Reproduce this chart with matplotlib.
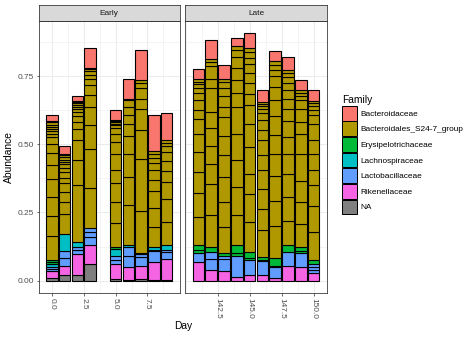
import matplotlib
matplotlib.use("Agg")
import matplotlib.pyplot as plt
from matplotlib.patches import Patch
import numpy as np

plt.rcParams['font.family'] = ['Liberation Sans', 'DejaVu Sans']

early_days = [0, 1, 2, 3, 5, 6, 7, 8, 9]
late_days = [141, 142, 143, 144, 145, 146, 147, 148, 149, 150]
days = early_days + late_days

families = ["NA", "Rikenellaceae", "Lactobacillaceae", "Lachnospiraceae",
            "Erysipelotrichaceae", "Bacteroidales_S24-7_group", "Bacteroidaceae"]
legend_order = ["Bacteroidaceae", "Bacteroidales_S24-7_group", "Erysipelotrichaceae",
                "Lachnospiraceae", "Lactobacillaceae", "Rikenellaceae", "NA"]

# OTU abundances per sample (one inner list per day), bottom OTU first
na_otus = [[0.010], [0.022], [0.022], [0.061], [0.005], [0.004], [0.006], [0.004], [0.004],
           [], [], [], [], [], [], [], [], [], []]
rikenellaceae = [[0.027], [0.033], [0.074], [0.070], [0.056], [0.045], [0.049], [0.063], [0.076],
                 [0.067], [0.039], [0.034], [0.015], [0.022], [0.022], [0.010], [0.055], [0.049], [0.027]]
lactobacillaceae = [[0.006, 0.006], [0.028, 0.025], [0.015, 0.012], [0.029, 0.020, 0.012],
                    [0.016, 0.015], [0.040, 0.036], [0.031, 0.010], [0.040, 0.007], [0.025, 0.008],
                    [0.035], [0.041, 0.024], [0.046, 0.012], [0.077], [0.054], [0.049],
                    [0.039, 0.006], [0.049], [0.053], [0.012, 0.012, 0.010]]
lachnospiraceae = [[0.012], [0.064], [0.020], [], [0.024], [0.007], [0.006], [0.009], [0.018],
                   [], [], [], [], [], [], [], [], [], []]
erysipelotrichaceae = [[0.008, 0.007], [], [], [], [0.009], [], [], [], [],
                       [0.011, 0.019], [0.019], [0.010], [0.008, 0.029], [0.007, 0.021],
                       [0.006, 0.009], [0.028], [0.028], [0.006, 0.015], [0.013]]
s24_7 = [
    [0.088, 0.073, 0.068, 0.066, 0.054, 0.043, 0.032, 0.025, 0.013, 0.010, 0.008, 0.009, 0.007, 0.008, 0.006],
    [0.073, 0.044, 0.035, 0.034, 0.020, 0.019, 0.017, 0.012, 0.010, 0.008, 0.008, 0.007, 0.007],
    [0.206, 0.095, 0.071, 0.040, 0.026, 0.021, 0.016, 0.011, 0.008, 0.008, 0.005, 0.004, 0.005],
    [0.149, 0.142, 0.087, 0.067, 0.044, 0.035, 0.024, 0.015, 0.012, 0.008, 0.006],
    [0.086, 0.077, 0.070, 0.046, 0.060, 0.045, 0.030, 0.019, 0.012, 0.005, 0.005, 0.004, 0.004],
    [0.147, 0.101, 0.086, 0.063, 0.045, 0.034, 0.029, 0.025, 0.005],
    [0.155, 0.189, 0.108, 0.076, 0.037, 0.041, 0.017, 0.010],
    [0.073, 0.072, 0.060, 0.040, 0.039, 0.024, 0.018, 0.014, 0.013],
    [0.085, 0.082, 0.062, 0.042, 0.037, 0.034, 0.022, 0.011, 0.011],
    [0.103, 0.086, 0.077, 0.074, 0.067, 0.052, 0.034, 0.037, 0.027, 0.019, 0.013, 0.008, 0.009],
    [0.118, 0.114, 0.071, 0.068, 0.064, 0.061, 0.086, 0.036, 0.046, 0.014, 0.010],
    [0.094, 0.092, 0.092, 0.080, 0.072, 0.068, 0.037, 0.041, 0.027, 0.022, 0.011],
    [0.110, 0.104, 0.098, 0.098, 0.098, 0.052, 0.046, 0.043, 0.043, 0.025, 0.014],
    [0.110, 0.105, 0.073, 0.098, 0.086, 0.067, 0.040, 0.042, 0.035, 0.033, 0.022, 0.022, 0.017],
    [0.098, 0.079, 0.074, 0.067, 0.058, 0.053, 0.039, 0.034, 0.025, 0.018, 0.009, 0.007, 0.009],
    [0.116, 0.093, 0.092, 0.082, 0.067, 0.070, 0.059, 0.049, 0.040, 0.021, 0.018, 0.015],
    [0.086, 0.088, 0.084, 0.076, 0.061, 0.059, 0.045, 0.034, 0.034, 0.024, 0.022, 0.015, 0.012],
    [0.083, 0.081, 0.078, 0.098, 0.076, 0.043, 0.049, 0.031, 0.016, 0.011, 0.010],
    [0.106, 0.093, 0.076, 0.058, 0.059, 0.051, 0.057, 0.033, 0.018, 0.015, 0.010, 0.008],
]
bacteroidaceae = [[0.022], [0.027], [0.017], [0.073], [0.039], [0.072], [0.111], [0.132], [0.098],
                  [0.038], [0.071], [0.051], [0.028], [0.053], [0.043], [0.037], [0.047], [0.036], [0.041]]

stack = [na_otus, rikenellaceae, lactobacillaceae, lachnospiraceae,
         erysipelotrichaceae, s24_7, bacteroidaceae]

colors = {
    "Bacteroidaceae": "#F8766D",
    "Bacteroidales_S24-7_group": "#B09800",
    "Erysipelotrichaceae": "#00BA38",
    "Lachnospiraceae": "#00BFC4",
    "Lactobacillaceae": "#619CFF",
    "Rikenellaceae": "#F564E3",
    "NA": "#7F7F7F",
}

W, H = 474, 338
fig = plt.figure(figsize=(W / 72, H / 72), dpi=72)
fig.patch.set_facecolor("white")

def fx(px):
    return px / W

def fy(py):
    return 1 - py / H

small = 8.2
big = 10.3
panel_top, panel_bot = 21, 293
panels = [
    ("Early", 38.5, 180.0, (-1.05, 10.05), [0, 2.5, 5, 7.5], ["0.0", "2.5", "5.0", "7.5"],
     [1.25, 3.75, 6.25, 8.75]),
    ("Late", 185.0, 327.0, (139.95, 151.05), [142.5, 145, 147.5, 150],
     ["142.5", "145.0", "147.5", "150.0"], [140.0, 141.25, 143.75, 146.25, 148.75]),
]
ylim = (-0.0454, 0.952)
grid_c = "#EBEBEB"
border_c = "#333333"
tick_c = "#4D4D4D"

axes = []
for name, x0, x1, xlim, xt, xtl, xminor in panels:
    ax = fig.add_axes([fx(x0), fy(panel_bot), fx(x1 - x0), fy(panel_top) - fy(panel_bot)])
    ax.set_xlim(*xlim)
    ax.set_ylim(*ylim)
    for y in [0.125, 0.375, 0.625, 0.875]:
        ax.axhline(y, color=grid_c, lw=0.5, zorder=0)
    for y in [0, 0.25, 0.5, 0.75]:
        ax.axhline(y, color=grid_c, lw=1.0, zorder=0)
    for x in xminor:
        ax.axvline(x, color=grid_c, lw=0.5, zorder=0)
    for x in xt:
        ax.axvline(x, color=grid_c, lw=1.0, zorder=0)
    ax.set_xticks(xt)
    ax.set_xticklabels(xtl, rotation=-90, fontsize=small, color=tick_c)
    ax.set_yticks([0, 0.25, 0.5, 0.75])
    if name == "Early":
        ax.set_yticklabels(["0.00", "0.25", "0.50", "0.75"], fontsize=small, color=tick_c)
    else:
        ax.set_yticklabels([])
    ax.tick_params(axis="both", length=2.5, width=0.7, color=border_c, pad=2)
    if name == "Late":
        ax.tick_params(axis="y", length=0)
    for sp in ax.spines.values():
        sp.set_color(border_c)
        sp.set_linewidth(0.8)

    # strip label
    sax = fig.add_axes([fx(x0), fy(panel_top), fx(x1 - x0), fy(5) - fy(panel_top)])
    sax.set_facecolor("#D9D9D9")
    sax.set_xticks([])
    sax.set_yticks([])
    for sp in sax.spines.values():
        sp.set_color(border_c)
        sp.set_linewidth(0.8)
    sax.text(0.5, 0.45, name, ha="center", va="center", fontsize=small, color="#1A1A1A",
             transform=sax.transAxes)
    axes.append(ax)

# stacked OTU bars
for i, day in enumerate(days):
    ax = axes[0] if day in early_days else axes[1]
    bottom = 0.0
    for fam, otus in zip(families, stack):
        for h in otus[i]:
            ax.bar(day, h, bottom=bottom, width=0.9, color=colors[fam],
                   edgecolor="black", linewidth=1.1, zorder=2)
            bottom += h

fig.text(fx(182.7), fy(326), "Day", ha="center", va="center", fontsize=big)
fig.text(fx(9), fy(157), "Abundance", ha="center", va="center", rotation=90, fontsize=big)

handles = [Patch(facecolor=colors[f], edgecolor="black", linewidth=1.0) for f in legend_order]
leg = fig.legend(handles, legend_order, loc="upper left", bbox_to_anchor=(fx(342), fy(95)),
                 frameon=False, fontsize=small, title="Family", title_fontsize=big,
                 handlelength=1.8, handleheight=2.4, labelspacing=0.1, handletextpad=0.4,
                 borderaxespad=0, borderpad=0)
leg._legend_box.align = "left"

fig.savefig("out.png", dpi=72)
